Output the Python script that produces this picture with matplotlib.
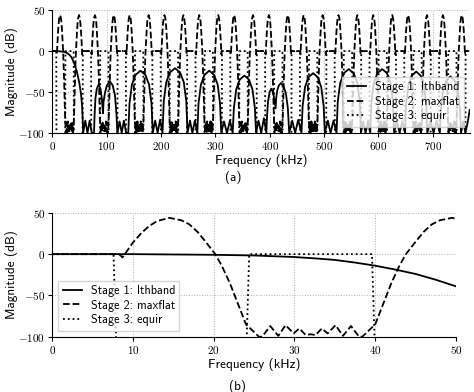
import numpy as np
import matplotlib
matplotlib.use('Agg')
import matplotlib.pyplot as plt
from matplotlib.ticker import FuncFormatter, MultipleLocator

plt.rcParams['font.family'] = ['cmss10', 'DejaVu Sans']
plt.rcParams['mathtext.fontset'] = 'cm'

# ---- data ----
# stage 1 (lthband), whole span shown in (a), kHz / dB
lth_khz = [0, 10, 20, 25, 27.5, 30, 32.5, 35, 37.5, 40, 42.5, 45, 47.5, 50,
           53, 55, 56, 57,
           61, 65, 69, 73,
           77, 77.9, 79.6, 82.1, 85.5, 88.9, 91.4, 93, 93.6,
           94.5, 97.5, 100.6, 106, 111.4, 115.5, 118.3, 120,
           124, 128, 132, 136,
           140, 142.25, 146.75, 153.5, 162.5, 171.5, 178.25, 182.75, 185,
           189.5, 194, 198.5,
           203, 205.3, 209.9, 216.8, 226, 235.2, 242.1, 246.7, 249,
           253.5, 258, 262.5,
           267, 269.2, 273.6, 280.2, 289, 297.8, 304.4, 308.8, 311,
           316, 321.5, 327,
           332, 334.2, 338.5, 344.9, 353.5, 362.1, 368.5, 372.9, 375,
           379.5, 384.5, 389.5,
           394, 395, 397, 400, 403, 406, 408.5, 410.3, 411,
           412, 414, 417, 421, 425.5, 430, 433.5, 436,
           441.5, 447, 452.5,
           458.5, 460.7, 465.1, 471.4, 480, 488.6, 494.9, 499.3, 501.5,
           507, 512, 517.5,
           523, 525.25, 529.75, 536.5, 545.5, 554.5, 561.25, 565.75, 568,
           572, 576.5, 581,
           585, 587.2, 591.6, 598.2, 607, 615.8, 622.4, 626.8, 629,
           634, 639, 644,
           649, 651, 655.2, 661.3, 669.5, 677.7, 683.8, 688, 690,
           696, 701.5, 707,
           713, 715, 718.9, 724.7, 732.5, 740.3, 746.1, 750, 752,
           756, 760, 764, 766, 768]
lth_db = [0, 0, -0.8, -1.6, -2.5, -3.5, -5.1, -7, -10.2, -14, -18.7, -24, -31, -39,
          -52, -66, -80, -100,
          -85, -100, -85, -100,
          -100, -81, -58, -46, -41, -46, -58, -70, -76,
          -62, -50, -42, -37, -42, -54, -77, -100,
          -86, -100, -85, -100,
          -100, -64, -41, -29, -24, -29, -41, -64, -100,
          -85, -100, -84,
          -100, -61, -38, -26, -21, -26, -38, -61, -100,
          -85, -100, -85,
          -100, -64, -41, -29, -24, -29, -41, -64, -100,
          -86, -100, -85,
          -100, -70, -47, -35, -30, -35, -47, -70, -100,
          -85, -100, -82,
          -100, -82, -62, -50, -46, -50, -58, -66, -70,
          -58, -48, -42, -39, -43, -52, -70, -100,
          -85, -100, -84,
          -100, -67, -44, -32, -27, -32, -44, -67, -100,
          -85, -100, -85,
          -100, -62, -39, -27, -22, -27, -39, -62, -100,
          -86, -100, -85,
          -100, -62, -39, -27, -22, -27, -39, -62, -100,
          -85, -100, -86,
          -100, -65, -42, -30, -25, -30, -42, -65, -100,
          -85, -100, -85,
          -100, -71, -48, -36, -31, -36, -48, -71, -100,
          -86, -100, -88, -80, -72]

# stage 2 (maxflat), one 64 kHz period read from (b)
maxflat_khz = [0, 8.3, 8.7, 9.0, 10, 11, 12, 13, 14.5, 16, 17, 18, 19, 20.2,
               21, 22, 23, 24, 25.6, 26.0, 27.0, 28.0, 28.9, 29.9, 30.6,
               31.4, 32.0, 32.6, 33.4, 34.1, 35.1, 36.0, 37.0, 38.0, 38.4,
               40, 41, 42, 43, 43.8, 45, 46, 47, 48, 49.5, 51, 52, 53, 54,
               55.0, 55.3, 55.7, 64]
maxflat_db = [0, 0, -4, 0, 14, 25, 34, 40, 44, 41, 36, 27, 15, 0,
              -14, -35, -60, -85, -100, -100, -87, -99, -86, -96, -90,
              -98, -97, -98, -90, -96, -86, -99, -87, -100, -100,
              -85, -60, -35, -14, 0, 15, 27, 36, 41, 44, 40, 34, 25, 14,
              0, -4, 0, 0]
maxflat_period = 64
maxflat_reps = 12

# stage 3 (equir), one 32 kHz period read from (b)
equir_khz = [0, 7.6, 8.0, 24.0, 24.4, 32]
equir_db = [0, 0, -130, -130, 0, 0]
equir_period = 32
equir_reps = 24

labels = ['Stage 1: lthband', 'Stage 2: maxflat', 'Stage 3: equir']


def repeat(xs, ys, period, reps):
    x = np.concatenate([np.asarray(xs) + k * period for k in range(reps)])
    y = np.concatenate([np.asarray(ys)] * reps)
    return x, y


def style(ax, xmax, xstep, ylab_x):
    ax.set_xlim(0, xmax)
    ax.set_ylim(-100, 50)
    ax.xaxis.set_major_locator(MultipleLocator(xstep))
    ax.yaxis.set_major_locator(MultipleLocator(50))
    fmt = FuncFormatter(lambda v, p: '$%g$' % v)
    ax.xaxis.set_major_formatter(fmt)
    ax.yaxis.set_major_formatter(fmt)
    ax.tick_params(labelsize=8, length=3, width=0.8, direction='out', pad=2)
    ax.grid(True, linestyle=':', color='#b0b0b0', linewidth=0.7)
    ax.spines['top'].set_visible(False)
    ax.spines['right'].set_visible(False)
    ax.set_xlabel('Frequency (kHz)', fontsize=9.5, labelpad=1.5)
    ax.set_ylabel('Magnitude (dB)', fontsize=9.5)
    ax.yaxis.set_label_coords(ylab_x, 0.5)


def add_legend(ax, loc):
    ax.legend(loc=loc, fontsize=8.8, handlelength=1.6, handletextpad=0.7,
              borderpad=0.35, labelspacing=0.22, fancybox=False,
              edgecolor='#cccccc')


fig = plt.figure(figsize=(4.74, 3.92), dpi=100)
ax1 = fig.add_axes([0.110, 0.661, 0.881, 0.313])
ax2 = fig.add_axes([0.110, 0.141, 0.852, 0.316])

mx, my = repeat(maxflat_khz, maxflat_db, maxflat_period, maxflat_reps)
ex, ey = repeat(equir_khz, equir_db, equir_period, equir_reps)

for ax in (ax1, ax2):
    ax.plot(lth_khz, lth_db, color='black', lw=1.3, ls='-', label=labels[0])
    ax.plot(mx, my, color='black', lw=1.3, ls='--', label=labels[1])
    ax.plot(ex, ey, color='black', lw=1.3, ls=':', label=labels[2])

style(ax1, 768, 100, -0.082)
style(ax2, 50, 10, -0.085)

add_legend(ax1, 'lower right')
add_legend(ax2, 'lower left')

fig.text(0.493, 0.546, '(a)', ha='center', va='center', fontsize=9.5)
fig.text(0.500, 0.014, '(b)', ha='center', va='center', fontsize=9.5)

fig.savefig('out.png', dpi=100)
